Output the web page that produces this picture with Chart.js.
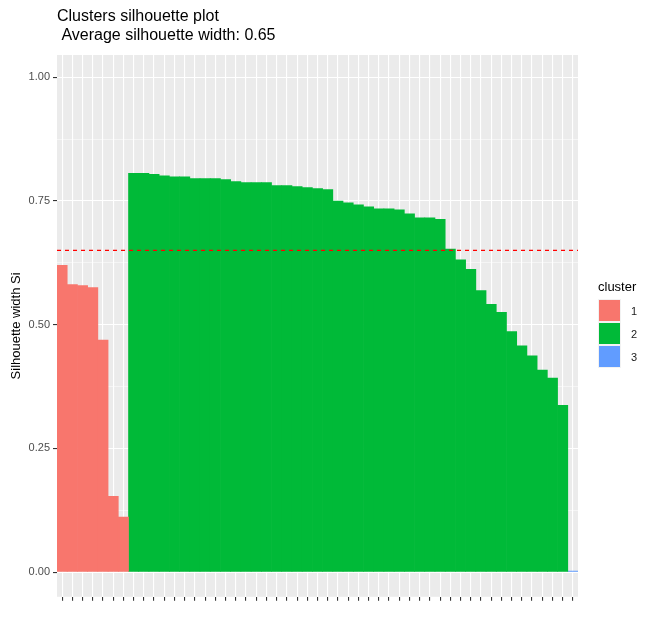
<!DOCTYPE html>
<html>
<head>
<meta charset="utf-8">
<script src="https://cdn.jsdelivr.net/npm/chart.js@4"></script>
<style>
  html, body { margin: 0; padding: 0; background: #fff; }
  #wrap { width: 660px; height: 622px; position: relative; }
</style>
</head>
<body>
<div id="wrap"><canvas id="sil"></canvas></div>
<script>
const clusterNames = ['1', '2', '3'];
const clusterColors = ['#F8766D', '#00BA38', '#619CFF'];
const cluster1 = [0.620, 0.581, 0.579, 0.575, 0.469, 0.153, 0.111];
const cluster2 = [
    0.806, 0.806, 0.804, 0.801, 0.799, 0.799, 0.795, 0.795, 0.795, 0.793,
    0.789, 0.787, 0.787, 0.787, 0.781, 0.781, 0.779, 0.777, 0.775, 0.773,
    0.750, 0.746, 0.742, 0.738, 0.734, 0.734, 0.732, 0.724, 0.716, 0.716,
    0.713, 0.653, 0.631, 0.612, 0.569, 0.541, 0.525, 0.486, 0.457, 0.437,
    0.408, 0.392, 0.337,
];
const cluster3 = [0.002];
const avgWidth = 0.65;

const allValues = [cluster1, cluster2, cluster3];
const labels = [];
allValues.forEach((vals, c) => vals.forEach((v, i) => labels.push(c + '-' + i)));

// each cluster gets its own dataset, null outside its own slots
let offset = 0;
const datasets = allValues.map((vals, c) => {
    const data = labels.map(() => null);
    vals.forEach((v, i) => { data[offset + i] = v; });
    offset += vals.length;
    return {
        label: clusterNames[c],
        data: data,
        backgroundColor: clusterColors[c],
        borderWidth: 0,
        barPercentage: 1,
        categoryPercentage: 1,
    };
});

const panelPlugin = {
    id: 'panel',
    beforeDraw(chart) {
        const { ctx, chartArea: a } = chart;
        ctx.save();
        ctx.fillStyle = '#EBEBEB';
        ctx.fillRect(a.left, a.top, a.right - a.left, a.bottom - a.top);
        ctx.restore();
    },
    afterDatasetsDraw(chart) {
        const { ctx, chartArea: a, scales } = chart;
        const y = scales.y.getPixelForValue(avgWidth);
        ctx.save();
        ctx.strokeStyle = '#FF0000';
        ctx.lineWidth = 1.2;
        ctx.setLineDash([4, 4]);
        ctx.beginPath();
        ctx.moveTo(a.left, y);
        ctx.lineTo(a.right, y);
        ctx.stroke();
        ctx.restore();
    },
    afterDraw(chart) {
        const { ctx, chartArea: a } = chart;
        ctx.save();
        ctx.fillStyle = '#000';
        ctx.font = '16px "Liberation Sans", Arial, sans-serif';
        ctx.textBaseline = 'alphabetic';
        ctx.fillText('Clusters silhouette plot', a.left, 21);
        ctx.fillText(' Average silhouette width: ' + avgWidth.toFixed(2), a.left, 40);

        // y axis title
        ctx.font = '13px "Liberation Sans", Arial, sans-serif';
        ctx.translate(20, (a.top + a.bottom) / 2);
        ctx.rotate(-Math.PI / 2);
        ctx.textAlign = 'center';
        ctx.fillText('Silhouette width Si', 0, 0);
        ctx.restore();

        // legend
        ctx.save();
        ctx.font = '13px "Liberation Sans", Arial, sans-serif';
        ctx.fillStyle = '#000';
        ctx.fillText('cluster', 598, 291);
        ctx.font = '11px "Liberation Sans", Arial, sans-serif';
        clusterNames.forEach((name, i) => {
            const top = 299 + i * 23;
            ctx.fillStyle = '#F2F2F2';
            ctx.fillRect(598, top, 23, 23);
            ctx.fillStyle = clusterColors[i];
            ctx.fillRect(599, top + 1, 21, 21);
            ctx.fillStyle = '#1A1A1A';
            ctx.fillText(name, 631, top + 16);
        });
        ctx.restore();
    },
};

new Chart(document.getElementById('sil').getContext('2d'), {
    type: 'bar',
    data: { labels: labels, datasets: datasets },
    plugins: [panelPlugin],
    options: {
        responsive: true,
        maintainAspectRatio: false,
        animation: false,
        layout: { padding: { top: 55, right: 82, bottom: 14, left: 0 } },
        scales: {
            x: {
                stacked: true,
                grid: { color: '#FFFFFF', lineWidth: 1.1, offset: false, drawTicks: true, tickLength: 4, tickColor: '#333333' },
                border: { display: false },
                ticks: { display: true, callback: () => '', font: { size: 1 } },
            },
            y: {
                stacked: true,
                min: -0.05,
                max: 1.045,
                afterBuildTicks(axis) {
                    axis.ticks = [0, 0.125, 0.25, 0.375, 0.5, 0.625, 0.75, 0.875, 1].map((v) => ({ value: v }));
                },
                grid: {
                    color: '#FFFFFF',
                    lineWidth: (c) => (c.tick && Math.round(c.tick.value * 1000) % 250 === 0 ? 1.1 : 0.5),
                    tickLength: 4,
                    tickColor: (c) => (c.tick && Math.round(c.tick.value * 1000) % 250 === 0 ? '#333333' : 'rgba(0,0,0,0)'),
                },
                border: { display: false },
                ticks: {
                    color: '#4D4D4D',
                    font: { size: 11, family: '"Liberation Sans", Arial, sans-serif' },
                    padding: 3,
                    callback: (v) => (Math.round(v * 1000) % 250 === 0 ? v.toFixed(2) : ''),
                },
                afterFit(axis) { axis.width = 57; },
            },
        },
        plugins: {
            legend: { display: false },
            tooltip: { enabled: false },
        },
    },
});
</script>
</body>
</html>
